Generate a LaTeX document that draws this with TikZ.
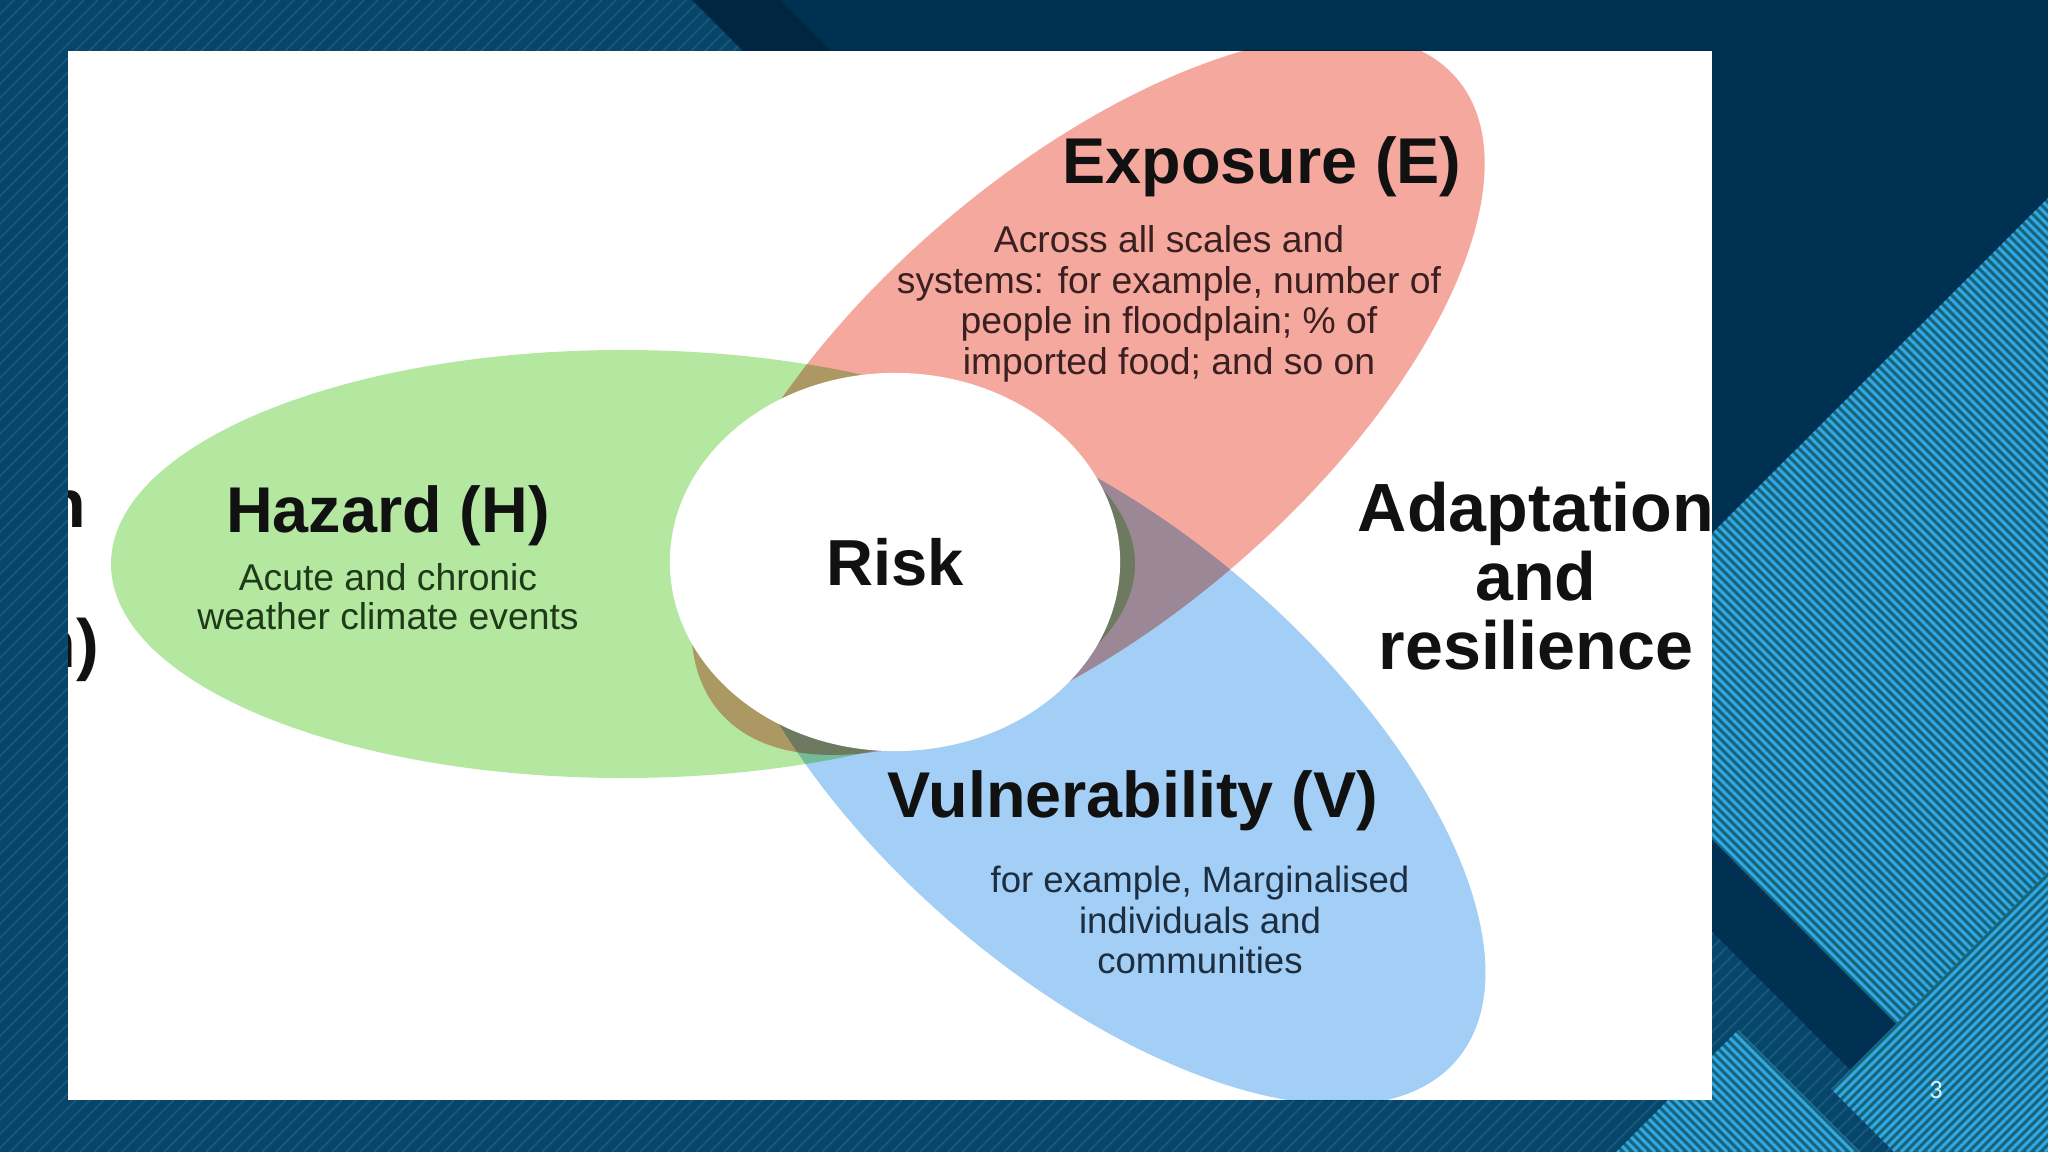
\documentclass[tikz,border=0pt]{standalone}
\usepackage{fontspec}
\setmainfont{Liberation Sans}
\newfontfamily\pagefont{Carlito}
\usepackage{tikz}
\usetikzlibrary{shapes.geometric}
\definecolor{navy}{HTML}{003052}
\definecolor{navydark}{HTML}{002642}
\definecolor{dimbase}{HTML}{05466A}
\definecolor{dimline}{HTML}{1A5679}
\definecolor{tealbase}{HTML}{1A6478}
\definecolor{brightline}{HTML}{2EA8E6}
\definecolor{hazard}{HTML}{B4E8A0}
\definecolor{expo}{HTML}{F5A89E}
\definecolor{vuln}{HTML}{A3CEF5}
\definecolor{ink}{HTML}{111111}
\definecolor{expoink}{HTML}{3A2020}
\definecolor{hazink}{HTML}{1E3A18}
\definecolor{vulnink}{HTML}{1C2E40}
\tikzset{
  petal/.style={blend mode=multiply},
  head/.style={text=ink, font=\fontsize{18.4}{22}\selectfont\bfseries, inner sep=0pt},
  big/.style={text=ink, align=center, font=\fontsize{19.4}{19.6}\selectfont\bfseries, inner sep=0pt},
  desc/.style={align=center, font=\fontsize{10.6}{11.5}\selectfont, inner sep=0pt},
  dimstripe/.style={draw=dimline, line width=0.6pt},
  hotstripe/.style={draw=brightline, line width=0.85pt},
}

\begin{document}
\begin{tikzpicture}[x=0.01cm, y=-0.01cm]
  \useasboundingbox (0,0) rectangle (2048,1152);
  % slide background
  \fill[navy] (0,0) rectangle (2048,1152);
  \begin{scope}
    \clip (0,0) -- (780,0) -- (1932,1152) -- (0,1152) -- cycle;
    \fill[dimbase] (0,0) rectangle (2048,1152);
    \foreach \c in {0,14,...,3100} \draw[dimstripe] (\c,0) -- ++(-1152,1152);
  \end{scope}
  \fill[navydark] (692,0) -- (780,0) -- (831,51) -- (743,51) -- cycle;
  % bright striped corners
  \begin{scope}
    \clip (1559,686) -- (2048,198) -- (2048,872) -- (1896,1024) -- cycle;
    \fill[tealbase] (1500,0) rectangle (2048,1152);
    \foreach \c in {860,869,...,1860} \draw[hotstripe] (\c,0) -- ++(1152,1152);
  \end{scope}
  \begin{scope}
    \clip (1831,1089) -- (2048,872) -- (2048,1152) -- (1894,1152) -- cycle;
    \fill[tealbase] (1800,800) rectangle (2048,1152);
    \foreach \c in {2900,2909,...,3210} \draw[hotstripe] (\c,0) -- ++(-1152,1152);
  \end{scope}
  \begin{scope}
    \clip (1738,1030) -- (1860,1152) -- (1616,1152) -- cycle;
    \fill[tealbase] (1600,1000) rectangle (1900,1152);
    \foreach \c in {440,449,...,720} \draw[hotstripe] (\c,0) -- ++(1152,1152);
  \end{scope}
  \node[text=white!85!brightline, font=\pagefont\fontsize{7.5}{9}\selectfont] (pagenum) at (1936,1090) {3};

  % white panel with the diagram
  \fill[white] (68,51) rectangle (1712,1100);
  \begin{scope}
    \clip (68,51) rectangle (1712,1100);
    \coordinate (H) at (623,564);
    \coordinate (E) at (1088,395);
    \coordinate (V) at (1100,754);
    \fill[hazard, petal] (H) ellipse [x radius=512, y radius=214];
    \fill[expo, petal, rotate around={40.7:(E)}] (E) ellipse [x radius=486, y radius=225];
    \fill[vuln, petal, rotate around={-40.7:(V)}] (V) ellipse [x radius=470, y radius=225];
    \node[ellipse, fill=white, minimum width=4.5cm, minimum height=3.78cm, inner sep=0pt,
      text=ink, font=\fontsize{18.5}{22}\selectfont\bfseries] (risk) at (895,562) {Risk};

    \node[head] (expohead) at (1262,167) {Exposure (E)};
    \node[desc, text=expoink] (expotext) at (1169,304)
      {Across all scales and\\systems: for example, number of\\people in floodplain; \% of\\imported food; and so on};
    \node[head] (hazhead) at (388,516) {Hazard (H)};
    \node[desc, text=hazink, font=\fontsize{10.6}{11.1}\selectfont] (haztext) at (388,597)
      {Acute and chronic\\weather climate events};
    \node[head] (vulnhead) at (1133,801) {Vulnerability (V)};
    \node[desc, text=vulnink, font=\fontsize{10.4}{11.4}\selectfont] (vulntext) at (1200,920)
      {for example, Marginalised\\individuals and\\communities};
    \node[big] (adapt) at (1536,576) {Adaptation\\and\\resilience};
    \node[big, anchor=east] (cutA) at (87,509) {n};
    \node[big, anchor=east] (cutB) at (100,650) {n)};
  \end{scope}
\end{tikzpicture}
\end{document}
